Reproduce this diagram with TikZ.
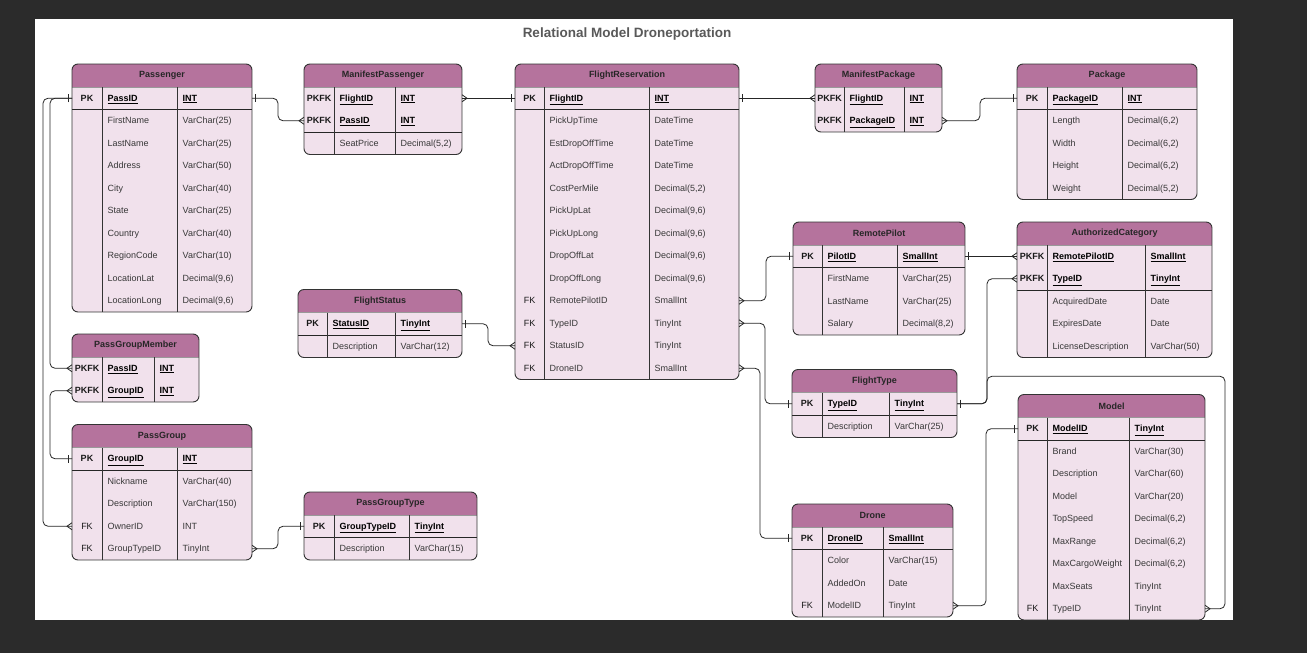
\documentclass[tikz,border=0pt]{standalone}
\usepackage{fontspec}
\setmainfont{Liberation Sans}
\usetikzlibrary{arrows.meta}

\definecolor{hdrpurple}{RGB}{181,115,157}
\definecolor{rowpink}{RGB}{241,225,236}
\definecolor{canvasdark}{RGB}{43,43,43}

% crow's foot ends
\pgfdeclarearrow{
  name = erone,
  setup code = {
    \pgfarrowssettipend{0pt}
    \pgfarrowssetlineend{0pt}
    \pgfarrowssetbackend{-5pt}
    \pgfarrowsupperhullpoint{-5pt}{4pt}
    \pgfarrowsupperhullpoint{0pt}{4pt}
  },
  drawing code = {
    \pgfpathmoveto{\pgfpoint{-3.5pt}{-3.8pt}}
    \pgfpathlineto{\pgfpoint{-3.5pt}{3.8pt}}
    \pgfusepathqstroke
  }
}
\pgfdeclarearrow{
  name = ermany,
  setup code = {
    \pgfarrowssettipend{0pt}
    \pgfarrowssetlineend{0pt}
    \pgfarrowssetbackend{-5pt}
    \pgfarrowsupperhullpoint{-5pt}{4pt}
    \pgfarrowsupperhullpoint{0pt}{4pt}
  },
  drawing code = {
    \pgfpathmoveto{\pgfpoint{0pt}{3.5pt}}
    \pgfpathlineto{\pgfpoint{-5pt}{0pt}}
    \pgfpathlineto{\pgfpoint{0pt}{-3.5pt}}
    \pgfusepathqstroke
  }
}

\tikzset{
  erd/.style={x=1pt, y=-1pt, font=\fontsize{9}{10}\selectfont},
  ttl/.style={font=\fontsize{13.5}{15}\selectfont\bfseries, text=black!65},
  hdrtext/.style={font=\fontsize{9}{10}\selectfont\bfseries, text=black!85},
  rowbox/.style={inner sep=0pt, outer sep=0pt, minimum height=22.5pt},
  keytext/.style={inner sep=0pt, text=black!90, text height=6.5pt, text depth=0.5pt},
  celltext/.style={anchor=west, inner sep=0pt, text=black!78,
                   text height=6.5pt, text depth=0.5pt},
  frame/.style={draw=black!80, line width=0.9pt, rounded corners=6pt},
  hdrline/.style={draw=black!40, line width=0.6pt},
  pkline/.style={draw=black!85, line width=0.9pt},
  colline/.style={draw=black!80, line width=0.8pt},
  rel/.style={draw=black!85, line width=0.8pt, rounded corners=5pt}
}

\newcommand{\keyfield}[1]{\textbf{\underline{#1}}}

% \ertable{id}{title}{left}{top}{col1}{col2}{right}{key rows}{key/name/type list}
\newcommand{\ertable}[9]{%
  \foreach \rr [count=\rc] in {#9} {\xdef\ernrows{\rc}}%
  \pgfmathsetmacro{\erbot}{#4+23+22.5*\ernrows}%
  \pgfmathsetmacro{\erpk}{#4+23+22.5*#8}%
  \begin{scope}
    \clip[rounded corners=6pt] (#3,#4) rectangle (#7,\erbot);
    \fill[rowpink] (#3,#4) rectangle (#7,\erbot);
    \fill[hdrpurple] (#3,#4) rectangle (#7,#4+23);
  \end{scope}
  \node[hdrtext] (#1) at ({(#3+#7)/2},#4+11.5) {#2};
  \draw[hdrline] (#3,#4+23) -- (#7,#4+23);
  \ifnum#8<\ernrows\relax
    \draw[pkline] (#3,\erpk) -- (#7,\erpk);
  \fi
  \draw[colline] (#5,#4+23) -- (#5,\erbot) (#6,#4+23) -- (#6,\erbot);
  \draw[frame] (#3,#4) rectangle (#7,\erbot);
  \foreach \rk/\rn/\rt [count=\ri] in {#9} {
    \pgfmathsetmacro{\ry}{#4+23+22.5*(\ri-0.5)}
    \node[rowbox, minimum width={(#7-#3)*1pt}] (#1-\rn) at ({(#3+#7)/2},\ry) {};
    \ifnum\ri>#8\relax
      \node[keytext] at ({(#3+#5)/2},\ry) {\rk};
      \node[celltext] at (#5+5.5,\ry) {\rn};
      \node[celltext] at (#6+5.5,\ry) {\rt};
    \else
      \node[keytext] at ({(#3+#5)/2},\ry) {\textbf{\rk}};
      \node[celltext, text=black] at (#5+5.5,\ry) {\keyfield{\rn}};
      \node[celltext, text=black] at (#6+5.5,\ry) {\keyfield{\rt}};
    \fi
  }
}

\begin{document}
\begin{tikzpicture}[erd]
  \useasboundingbox (0,0) rectangle (1307,653);
  \fill[canvasdark] (0,0) rectangle (1307,653);
  \fill[white] (35,19) rectangle (1233,620);

  \node[ttl] (title) at (627,34) {Relational Model Droneportation};

  \ertable{pass}{Passenger}{72}{64}{102}{177}{252}{1}{PK/PassID/INT,
    {}/FirstName/VarChar(25), {}/LastName/VarChar(25), {}/Address/VarChar(50),
    {}/City/VarChar(40), {}/State/VarChar(25), {}/Country/VarChar(40),
    {}/RegionCode/VarChar(10), {}/LocationLat/{Decimal(9,6)}, {}/LocationLong/{Decimal(9,6)}}
  \ertable{mpas}{ManifestPassenger}{304}{64}{334}{395}{462}{2}{PKFK/FlightID/INT,
    PKFK/PassID/INT, {}/SeatPrice/{Decimal(5,2)}}
  \ertable{fres}{FlightReservation}{515}{64}{544}{649}{739}{1}{PK/FlightID/INT,
    {}/PickUpTime/DateTime, {}/EstDropOffTime/DateTime, {}/ActDropOffTime/DateTime,
    {}/CostPerMile/{Decimal(5,2)}, {}/PickUpLat/{Decimal(9,6)}, {}/PickUpLong/{Decimal(9,6)},
    {}/DropOffLat/{Decimal(9,6)}, {}/DropOffLong/{Decimal(9,6)}, FK/RemotePilotID/SmallInt,
    FK/TypeID/TinyInt, FK/StatusID/TinyInt, FK/DroneID/SmallInt}
  \ertable{mpkg}{ManifestPackage}{815}{64}{844}{904}{942}{2}{PKFK/FlightID/INT,
    PKFK/PackageID/INT}
  \ertable{pkg}{Package}{1017}{64}{1047}{1122}{1197}{1}{PK/PackageID/INT,
    {}/Length/{Decimal(6,2)}, {}/Width/{Decimal(6,2)}, {}/Height/{Decimal(6,2)},
    {}/Weight/{Decimal(5,2)}}
  \ertable{rpil}{RemotePilot}{793}{222}{822}{897}{965}{1}{PK/PilotID/SmallInt,
    {}/FirstName/VarChar(25), {}/LastName/VarChar(25), {}/Salary/{Decimal(8,2)}}
  \ertable{acat}{AuthorizedCategory}{1017}{222}{1047}{1145}{1212}{2}{PKFK/RemotePilotID/SmallInt,
    PKFK/TypeID/TinyInt, {}/AcquiredDate/Date, {}/ExpiresDate/Date,
    {}/LicenseDescription/VarChar(50)}
  \ertable{fsta}{FlightStatus}{298}{289.5}{327}{395}{462}{1}{PK/StatusID/TinyInt,
    {}/Description/VarChar(12)}
  \ertable{pgm}{PassGroupMember}{72}{334}{102}{154}{199}{2}{PKFK/PassID/INT,
    PKFK/GroupID/INT}
  \ertable{pgrp}{PassGroup}{72}{424.5}{102}{177}{252}{1}{PK/GroupID/INT,
    {}/Nickname/VarChar(40), {}/Description/VarChar(150), FK/OwnerID/INT,
    FK/GroupTypeID/TinyInt}
  \ertable{pgt}{PassGroupType}{304}{492}{334}{409}{477}{1}{PK/GroupTypeID/TinyInt,
    {}/Description/VarChar(15)}
  \ertable{ftyp}{FlightType}{792}{369.5}{822}{889}{957}{1}{PK/TypeID/TinyInt,
    {}/Description/VarChar(25)}
  \ertable{drone}{Drone}{792}{504}{822}{883}{953}{1}{PK/DroneID/SmallInt,
    {}/Color/VarChar(15), {}/AddedOn/Date, FK/ModelID/TinyInt}
  \ertable{model}{Model}{1018}{394.5}{1047}{1129}{1205}{1}{PK/ModelID/TinyInt,
    {}/Brand/VarChar(30), {}/Description/VarChar(60), {}/Model/VarChar(20),
    {}/TopSpeed/{Decimal(6,2)}, {}/MaxRange/{Decimal(6,2)}, {}/MaxCargoWeight/{Decimal(6,2)},
    {}/MaxSeats/TinyInt, FK/TypeID/TinyInt}

  % relationships
  \draw[rel, erone-ermany] (pass-PassID.east) -- ++(26,0) |- (mpas-PassID.west);
  \draw[rel, erone-ermany] (fres-FlightID.west) -- (mpas-FlightID.east);
  \draw[rel, erone-ermany] (fres-FlightID.east) -- (mpkg-FlightID.west);
  \draw[rel, erone-ermany] (pkg-PackageID.west) -- ++(-37,0) |- (mpkg-PackageID.east);
  \draw[rel, erone-ermany] (rpil-PilotID.west) -- ++(-27,0) |- (fres-RemotePilotID.east);
  \draw[rel, erone-ermany] (ftyp-TypeID.west) -- ++(-27,0) |- (fres-TypeID.east);
  \draw[rel, erone-ermany] (fsta-StatusID.east) -- ++(26,0) |- (fres-StatusID.west);
  \draw[rel, erone-ermany] (drone-DroneID.west) -- ++(-32,0) |- (fres-DroneID.east);
  \draw[rel, erone-ermany] (rpil-PilotID.east) -- (acat-RemotePilotID.west);
  \draw[rel, erone-ermany] (ftyp-TypeID.east) -- ++(30,0) |- (acat-TypeID.west);
  \draw[rel, erone-ermany] (model-ModelID.west) -- ++(-32,0) |- (drone-ModelID.east);
  \draw[rel, erone-ermany] (ftyp-TypeID.east) -- ++(30,0) -- ++(0,-27.5)
       -| ([xshift=20pt]model-TypeID.east) -- (model-TypeID.east);
  \draw[rel, erone-ermany] (pass-PassID.west) -- ++(-22,0) |- (pgm-PassID.west);
  \draw[rel, erone-ermany] (pass-PassID.west) -- ++(-29,0) |- (pgrp-OwnerID.west);
  \draw[rel, erone-ermany] (pgrp-GroupID.west) -- ++(-22,0) |- (pgm-GroupID.west);
  \draw[rel, erone-ermany] (pgt-GroupTypeID.west) -- ++(-26,0) |- (pgrp-GroupTypeID.east);
\end{tikzpicture}
\end{document}
